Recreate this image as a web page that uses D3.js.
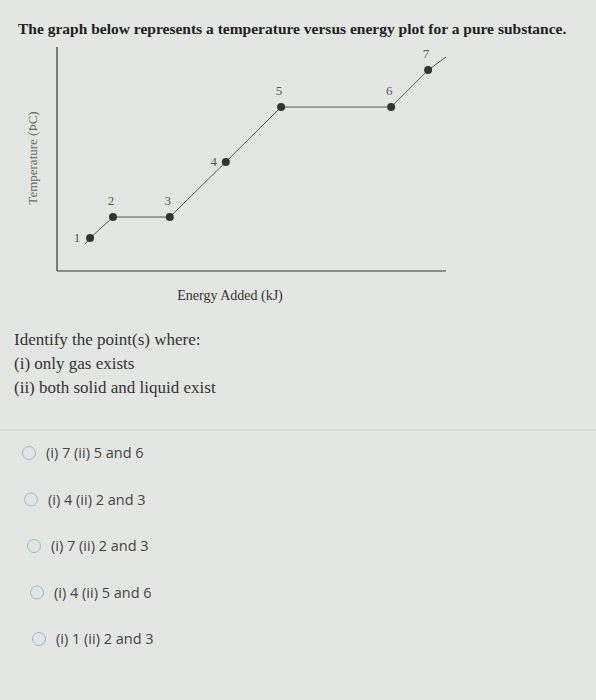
<!DOCTYPE html>
<html><head><meta charset="utf-8">
<script src="https://cdn.jsdelivr.net/npm/d3@7"></script>
<style>body{margin:0;background:#e4e6e3;}</style>
</head><body>
<script>
var width = 596, height = 700;
var pointLabels = ["1","2","3","4","5","6","7"];
var energy = [8.5, 14.4, 29.0, 43.4, 57.6, 85.9, 95.4];
var temperature = [14.7, 24.1, 24.1, 48.7, 73.2, 73.2, 89.7];
var lineStart = [7.2, 12], lineEnd = [100, 95.5];
var questionLines = ["Identify the point(s) where:", "(i) only gas exists", "(ii) both solid and liquid exist"];
var choices = ["(i) 7 (ii) 5 and 6", "(i) 4 (ii) 2 and 3", "(i) 7 (ii) 2 and 3", "(i) 4 (ii) 5 and 6", "(i) 1 (ii) 2 and 3"];

var svg = d3.select("body").append("svg").attr("width", width).attr("height", height);
svg.append("rect").attr("width", width).attr("height", height).attr("fill", "#e4e6e3");

svg.append("text").attr("x", 18).attr("y", 34)
    .attr("font-family", "Liberation Serif").attr("font-size", 15.5).attr("font-weight", "bold").attr("fill", "#222")
    .text("The graph below represents a temperature versus energy plot for a pure substance.");

var x = d3.scaleLinear().domain([0, 100]).range([57, 446]);
var y = d3.scaleLinear().domain([0, 100]).range([271, 47]);

// axes (plain lines, no ticks)
svg.append("line").attr("x1", x(0)).attr("x2", x(0)).attr("y1", y(100)).attr("y2", y(0)).attr("stroke", "#333").attr("stroke-width", 1.2);
svg.append("line").attr("x1", x(0)).attr("x2", x(100)).attr("y1", y(0)).attr("y2", y(0)).attr("stroke", "#333").attr("stroke-width", 1.2);

var pts = [lineStart].concat(energy.map(function(e, i) { return [e, temperature[i]]; })).concat([lineEnd]);
svg.append("path").attr("d", d3.line().x(function(d) { return x(d[0]); }).y(function(d) { return y(d[1]); })(pts))
    .attr("fill", "none").attr("stroke", "#555").attr("stroke-width", 1);

var g = svg.append("g");
energy.forEach(function(e, i) {
    g.append("circle").attr("cx", x(e)).attr("cy", y(temperature[i])).attr("r", 4).attr("fill", "#333");
    var lx = i == 0 ? x(e) - 13 : (i == 3 ? x(e) - 12 : x(e) - 2);
    var ly = i == 0 || i == 3 ? y(temperature[i]) + 4 : y(temperature[i]) - 12;
    g.append("text").attr("x", lx).attr("y", ly).attr("text-anchor", "middle")
        .attr("font-family", "Liberation Serif").attr("font-size", 13).attr("fill", "#555").text(pointLabels[i]);
});

svg.append("text").attr("x", 230).attr("y", 300).attr("text-anchor", "middle")
    .attr("font-family", "Liberation Serif").attr("font-size", 14).attr("fill", "#333").text("Energy Added (kJ)");
svg.append("text").attr("transform", "translate(37,158) rotate(-90)").attr("text-anchor", "middle")
    .attr("font-family", "Liberation Serif").attr("font-size", 13).attr("fill", "#666").text("Temperature (ÞC)");

questionLines.forEach(function(t, i) {
    svg.append("text").attr("x", 14).attr("y", 345 + i * 24)
        .attr("font-family", "Liberation Serif").attr("font-size", 17).attr("fill", "#333").text(t);
});

svg.append("line").attr("x1", 0).attr("x2", width).attr("y1", 430).attr("y2", 430).attr("stroke", "#d0d2cf");
var indent = [29, 31, 34, 37, 39];
choices.forEach(function(t, i) {
    var cy = 453 + i * 46.5;
    svg.append("circle").attr("cx", indent[i]).attr("cy", cy).attr("r", 6.5).attr("fill", "#dfe5ea").attr("stroke", "#a8b4be");
    svg.append("text").attr("x", indent[i] + 17).attr("y", cy + 5)
        .attr("font-family", "Open Sans").attr("font-size", 14.5).attr("fill", "#444").text(t);
});
</script>
</body></html>
